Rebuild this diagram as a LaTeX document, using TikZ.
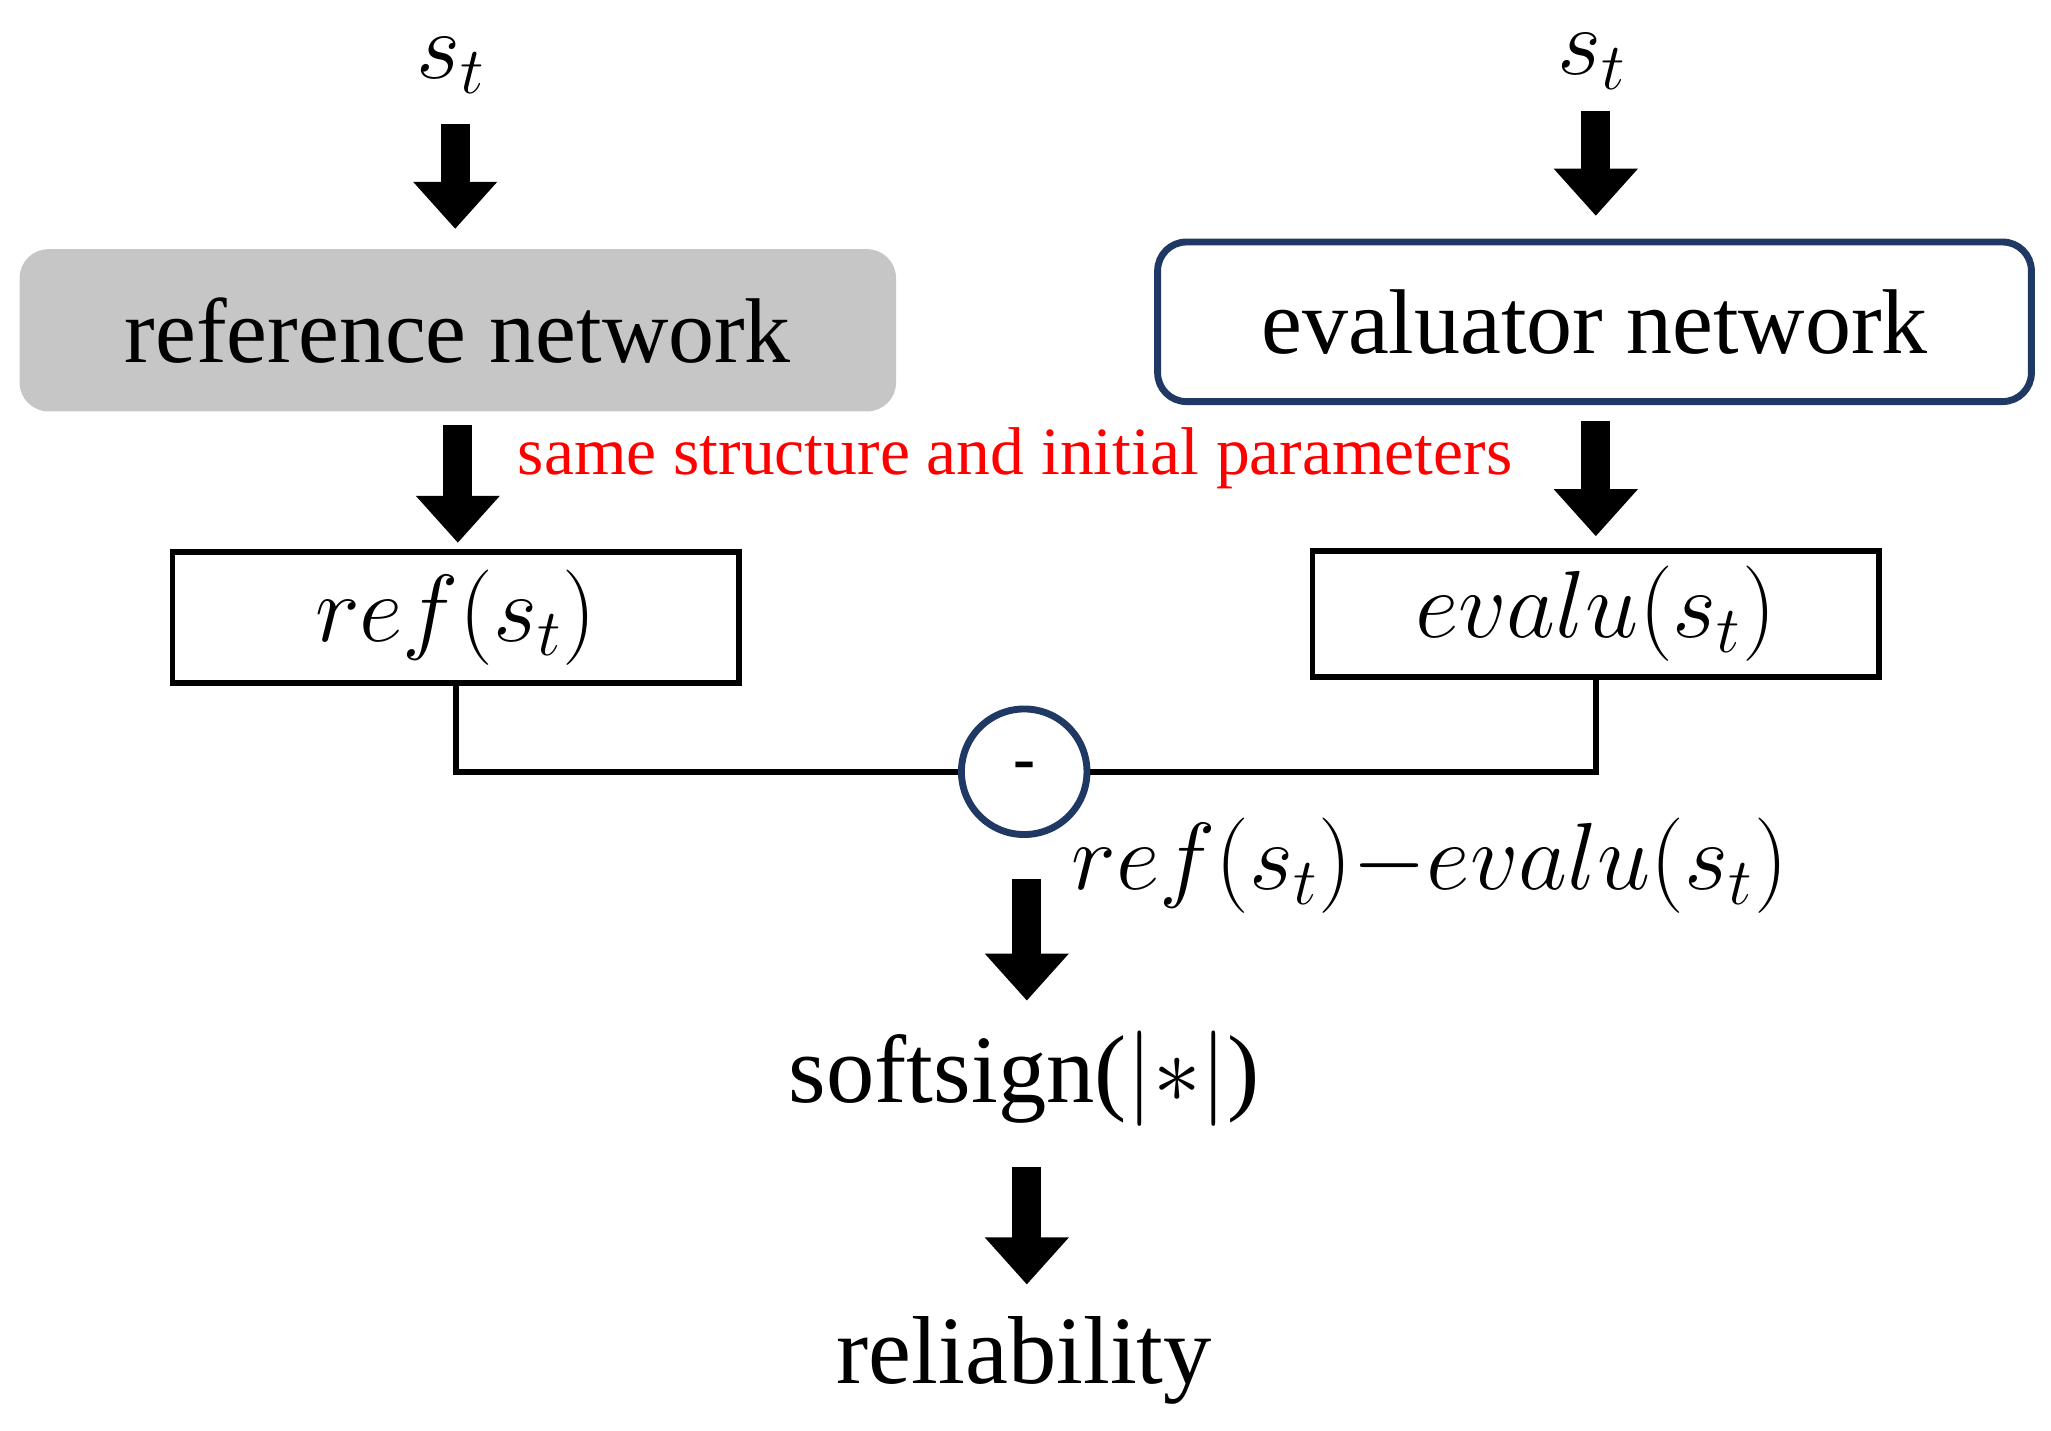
\documentclass[tikz,border=0pt]{standalone}
\usepackage{fontspec}
\setmainfont{Liberation Serif}
\usetikzlibrary{arrows.meta}
\definecolor{navy}{HTML}{1F3864}
\begin{document}
\begin{tikzpicture}[
  big/.style={line width=0.22cm,-{Triangle[width=0.62cm,length=0.36cm]}},
  lbl/.style={font=\fontsize{21}{25}\selectfont, inner sep=0pt},
  box/.style={draw, line width=1.2pt, minimum width=4.33cm, minimum height=1cm, font=\fontsize{21}{25}\selectfont},
  net/.style={rounded corners=0.22cm, minimum height=1.24cm, font=\fontsize{20}{24}\selectfont}
]
\useasboundingbox (0,0) rectangle (15.68,-10.94);
\node[lbl] (s1) at (3.45,-0.5) {$s_t$};
\node[lbl] (s2) at (12.17,-0.47) {$s_t$};
\node[net, fill=gray!45, minimum width=6.7cm] (refnet) at (3.5,-2.525) {reference network};
\node[net, draw=navy, line width=1.5pt, minimum width=6.68cm, minimum height=1.22cm] (evnet) at (12.19,-2.46) {evaluator network};
\node[text=red, font=\fontsize{14.7}{18}\selectfont, inner sep=0pt] (same) at (7.76,-3.5) {same structure and initial parameters};
\node[box] (ref) at (3.485,-4.72) {$ref(s_t)$};
\node[box, minimum height=0.95cm] (ev) at (12.2,-4.695) {$evalu(s_t)$};
\node[circle, draw=navy, line width=1.5pt, minimum size=0.96cm, inner sep=0pt, font=\Large\bfseries] (minus) at (7.83,-5.9) {-};
\node[lbl, font=\fontsize{20}{24}\selectfont] (diff) at (10.93,-6.62) {$ref(s_t){-}evalu(s_t)$};
\node[lbl] (soft) at (7.83,-8.25) {softsign($|{*}|$)};
\node[lbl] (rel) at (7.83,-10.4) {reliability};
\coordinate (a1s) at (3.48,-0.95); \coordinate (a1e) at (3.48,-1.75);
\coordinate (a2s) at (12.2,-0.85); \coordinate (a2e) at (12.2,-1.65);
\coordinate (a3s) at (3.5,-3.25); \coordinate (a3e) at (3.5,-4.15);
\coordinate (a4s) at (12.2,-3.22); \coordinate (a4e) at (12.2,-4.1);
\coordinate (a5s) at (7.85,-6.72); \coordinate (a5e) at (7.85,-7.65);
\coordinate (a6s) at (7.85,-8.92); \coordinate (a6e) at (7.85,-9.82);
\draw[big] (a1s) -- (a1e);
\draw[big] (a2s) -- (a2e);
\draw[big] (a3s) -- (a3e);
\draw[big] (a4s) -- (a4e);
\draw[big] (a5s) -- (a5e);
\draw[big] (a6s) -- (a6e);
\draw[line width=1.2pt] (ref.south) |- (minus.west);
\draw[line width=1.2pt] (ev.south) |- (minus.east);
\end{tikzpicture}
\end{document}
